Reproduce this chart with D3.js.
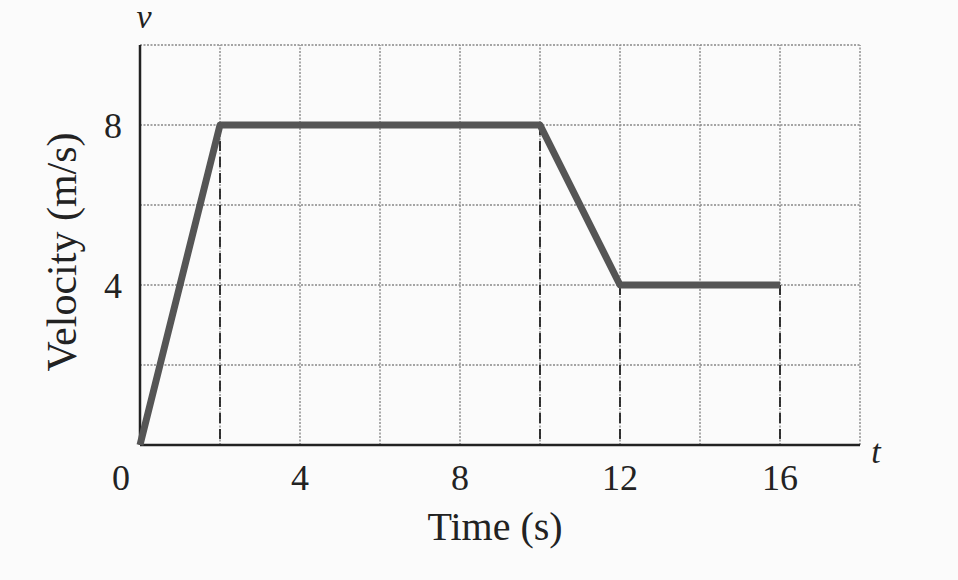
<!DOCTYPE html><html><head><script src="https://cdn.jsdelivr.net/npm/d3@7"></script>
<style>body{margin:0;background:#fbfbfb}</style></head><body><svg id="c" width="958" height="580"></svg>
<script>
const times=[0,2,10,12,16];
const velocities=[0,8,8,4,4];
const xTicks=[4,8,12,16];
const yTicks=[4,8];
const dashedTimes=[2,10,12,16];
const svg=d3.select("#c");
const x=d3.scaleLinear().domain([0,18]).range([140,860]);
const y=d3.scaleLinear().domain([0,10]).range([445,45]);
const g=svg.append("g");
d3.range(0,19,2).forEach(t=>g.append("line").attr("x1",x(t)).attr("x2",x(t)).attr("y1",y(0)).attr("y2",y(10)).attr("stroke","#888").attr("stroke-width",1.4).attr("stroke-dasharray","2,1.5"));
d3.range(0,11,2).forEach(v=>g.append("line").attr("x1",x(0)).attr("x2",x(18)).attr("y1",y(v)).attr("y2",y(v)).attr("stroke","#888").attr("stroke-width",1.4).attr("stroke-dasharray","2,1.5"));
g.append("line").attr("x1",x(0)).attr("x2",x(18)).attr("y1",y(0)).attr("y2",y(0)).attr("stroke","#222").attr("stroke-width",2.5);
g.append("line").attr("x1",x(0)).attr("x2",x(0)).attr("y1",y(0)).attr("y2",y(10)).attr("stroke","#222").attr("stroke-width",2.5);
dashedTimes.forEach(t=>{const v=velocities[times.indexOf(t)];
 g.append("line").attr("x1",x(t)).attr("x2",x(t)).attr("y1",y(v)).attr("y2",y(0)).attr("stroke","#222").attr("stroke-width",1.8).attr("stroke-dasharray","10,6");});
g.append("path").datum(times.map((t,i)=>[t,velocities[i]])).attr("d",d3.line().x(d=>x(d[0])).y(d=>y(d[1])))
 .attr("fill","none").attr("stroke","#555").attr("stroke-width",7).attr("stroke-linejoin","round");
const f="Liberation Serif, serif";
xTicks.forEach(t=>svg.append("text").attr("x",x(t)).attr("y",490).attr("text-anchor","middle").attr("font-family",f).attr("font-size",36).attr("fill","#222").text(t));
svg.append("text").attr("x",121).attr("y",490).attr("text-anchor","middle").attr("font-family",f).attr("font-size",36).attr("fill","#222").text("0");
yTicks.forEach(v=>svg.append("text").attr("x",122).attr("y",y(v)+13).attr("text-anchor","end").attr("font-family",f).attr("font-size",36).attr("fill","#222").text(v));
svg.append("text").attr("x",495).attr("y",540).attr("text-anchor","middle").attr("font-family",f).attr("font-size",40).attr("fill","#222").text("Time (s)");
svg.append("text").attr("transform","translate(76,252) rotate(-90)").attr("text-anchor","middle").attr("font-family",f).attr("font-size",42).attr("fill","#222").text("Velocity (m/s)");
svg.append("text").attr("x",144).attr("y",28).attr("text-anchor","middle").attr("font-family",f).attr("font-style","italic").attr("font-size",34).attr("fill","#222").text("v");
svg.append("text").attr("x",876).attr("y",463).attr("text-anchor","middle").attr("font-family",f).attr("font-style","italic").attr("font-size",34).attr("fill","#222").text("t");
</script></body></html>
